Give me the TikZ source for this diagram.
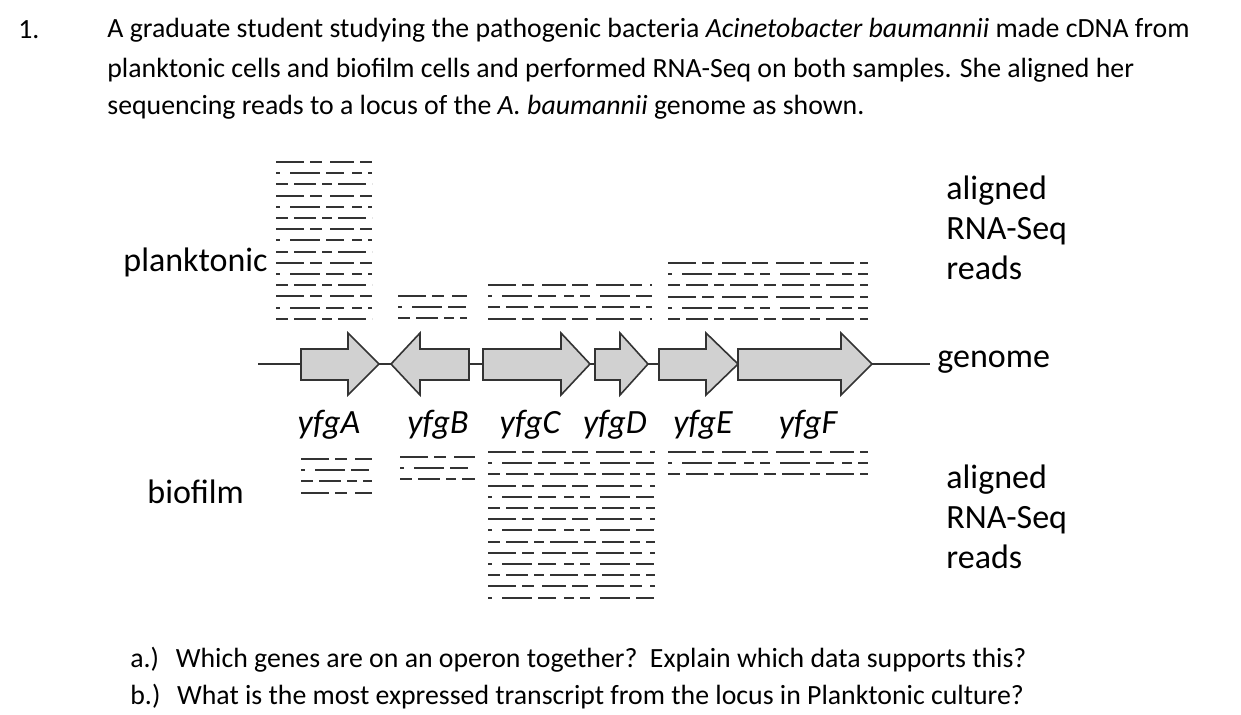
\documentclass[tikz,border=0pt]{standalone}
\usepackage{fontspec}
\setmainfont{Carlito}
\begin{document}
\begin{tikzpicture}[x=0.5pt,y=-0.5pt]
\tikzset{
  body/.style={font=\fontsize{13.9}{16}\selectfont,anchor=west,inner sep=0pt},
  lab/.style={font=\fontsize{17}{19}\selectfont,inner sep=0pt},
  gene/.style={draw=black!80,fill=black!18,line width=0.8pt,line join=miter},
  rd/.style={line width=1pt,draw=black!80}
}
\useasboundingbox (0,0) rectangle (1241,714);
% question text
\node[body] (num) at (18,30) {1.};
\node[body] (l1) at (107,30) {A graduate student studying the pathogenic bacteria \textit{Acinetobacter baumannii} made cDNA from};
\node[body] (l2) at (107,70) {planktonic cells and biofilm cells and performed RNA-Seq on both samples. She aligned her};
\node[body] (l3) at (107,107) {sequencing reads to a locus of the \textit{A. baumannii} genome as shown.};
\node[body] (qa) at (130,660) {a.)\hspace{0.6em}Which genes are on an operon together?\ \ Explain which data supports this?};
\node[body] (qb) at (130,697) {b.)\hspace{0.6em}What is the most expressed transcript from the locus in Planktonic culture?};
% side labels
\node[lab,anchor=east] (plk) at (268,262) {planktonic};
\node[lab,anchor=west] (bio) at (147,492) {biofilm};
\node[lab,anchor=west,align=left] (al1) at (946,228) {aligned\\[1pt]RNA-Seq\\[1pt]reads};
\node[lab,anchor=west,align=left] (al2) at (946,517) {aligned\\[1pt]RNA-Seq\\[1pt]reads};
\node[lab,anchor=west] (gen) at (937,362) {genome};
% genome line
\coordinate (g0) at (258,364);
\coordinate (g1) at (930,364);
\draw[line width=0.8pt,black!80] (g0) -- (g1);
% genes
\newcommand{\fwdgene}[3]{\draw[gene] (#1,349) -- (#2,349) -- (#2,333) -- (#3,364) -- (#2,395) -- (#2,380) -- (#1,380) -- cycle;}
\newcommand{\revgene}[3]{\draw[gene] (#3,349) -- (#2,349) -- (#2,333) -- (#1,364) -- (#2,395) -- (#2,380) -- (#3,380) -- cycle;}
\fwdgene{301}{348}{379}
\revgene{391}{420}{469}
\fwdgene{483}{561}{590}
\fwdgene{595}{620}{648}
\fwdgene{659}{706}{738}
\fwdgene{738}{841}{872}
% gene names
\foreach \n/\x in {A/329,B/438,C/530,D/615,E/703,F/808}
  \node[lab,font=\fontsize{17}{19}\selectfont\itshape] (n\n) at (\x,425) {yfg\n};
% reads: x1, x2, first row y, rows
\newcommand{\readblock}[4]{
  \foreach \r in {1,...,#4} {
    \pgfmathtruncatemacro{\k}{mod(\r,3)}
    \pgfmathsetmacro{\yy}{#3+11.2*(\r-1)}
    \ifnum\k=0 \draw[rd,dash pattern=on 6pt off 3pt on 11pt off 3pt on 5pt off 3pt on 14pt off 3pt] (#1,\yy) -- (#2,\yy);\fi
    \ifnum\k=1 \draw[rd,dash pattern=on 14pt off 3pt on 6pt off 4pt on 12pt off 3pt on 8pt off 4pt] (#1,\yy) -- (#2,\yy);\fi
    \ifnum\k=2 \draw[rd,dash pattern=on 5pt off 5pt on 15pt off 3pt on 9pt off 4pt on 5pt off 3pt,dash phase=3pt] (#1,\yy) -- (#2,\yy);\fi
  }
}
% planktonic
\readblock{276}{372}{162}{15}
\readblock{398}{467}{296}{3}
\readblock{488}{652}{285}{4}
\readblock{668}{868}{263}{6}
% biofilm
\readblock{301}{372}{459}{4}
\readblock{400}{475}{457}{3}
\readblock{488}{655}{452}{14}
\readblock{668}{868}{452}{3}
\end{tikzpicture}
\end{document}
